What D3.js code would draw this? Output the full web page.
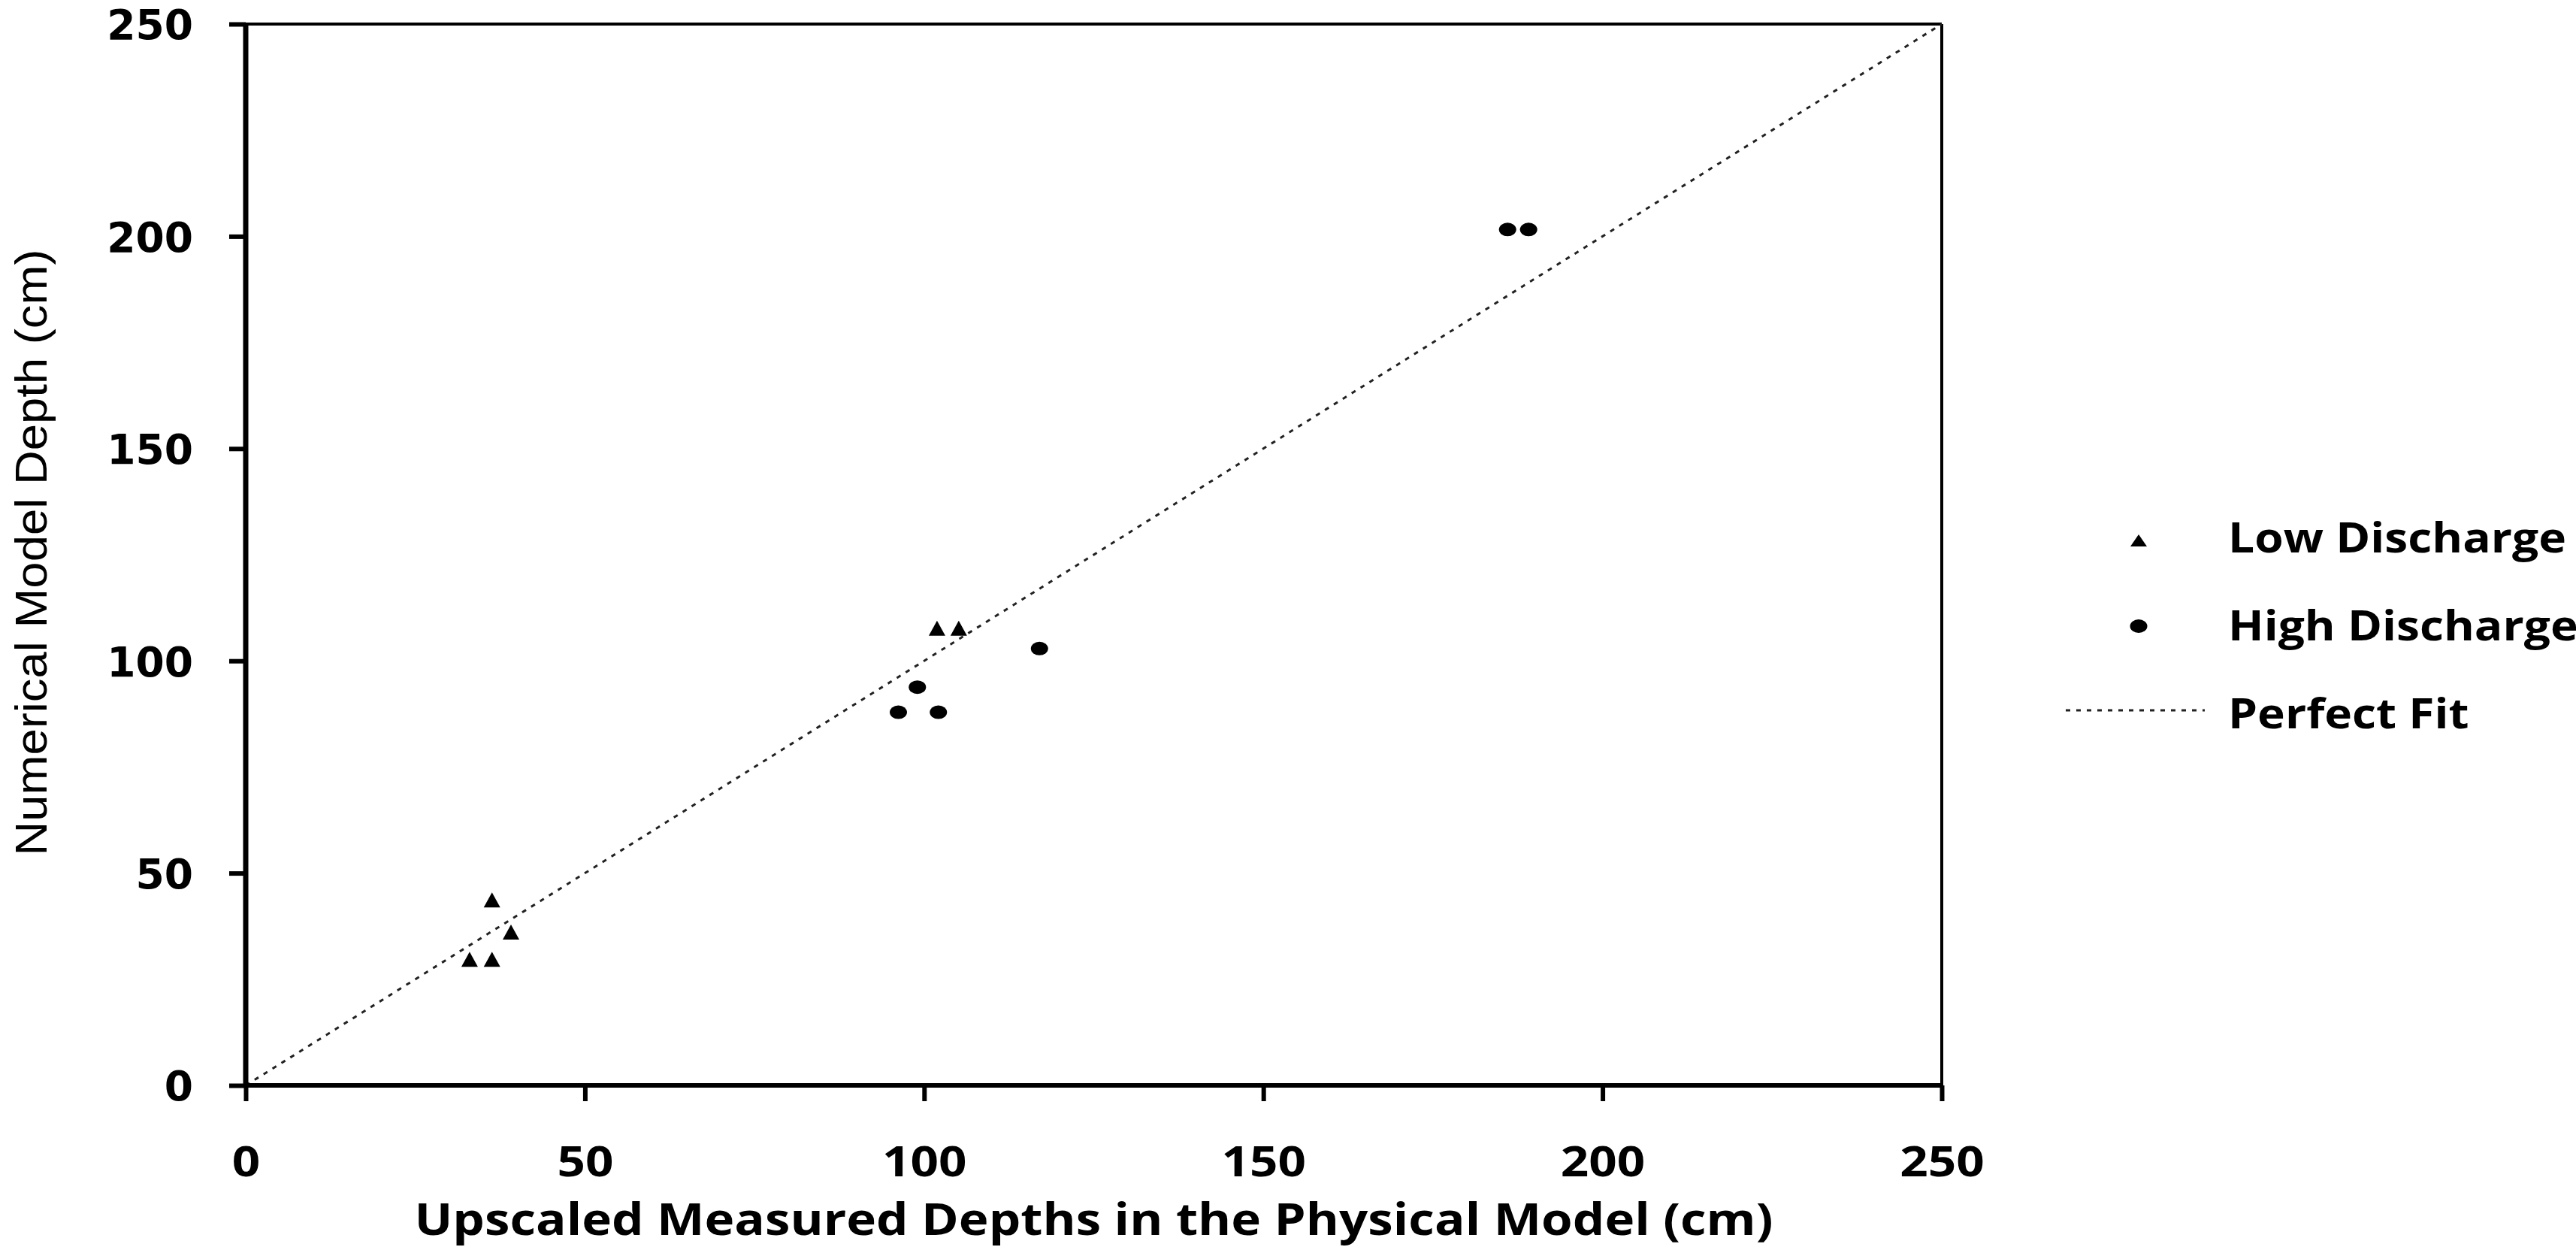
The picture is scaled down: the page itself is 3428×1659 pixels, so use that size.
<!DOCTYPE html>
<html>
<head>
<meta charset="utf-8">
<script src="https://cdn.jsdelivr.net/npm/d3@7"></script>
<style>
html, body { margin: 0; padding: 0; background: #ffffff; }
svg { display: block; }
</style>
</head>
<body>
<script>
// ---- data ----
const lowX  = [36.3, 39.1, 33.0, 36.3, 101.9, 105.1];
const lowY  = [43.7, 36.1, 29.7, 29.7, 107.7, 107.7];
const highX = [96.2, 99.0, 102.1, 117.0, 186.0, 189.1];
const highY = [87.9, 93.8, 87.9, 102.9, 201.6, 201.6];
const fitX  = [0, 250];
const fitY  = [0, 250];
const tickValues = [0, 50, 100, 150, 200, 250];
const seriesNames = ["Low Discharge", "High Discharge", "Perfect Fit"];
const xTitle = "Upscaled Measured Depths in the Physical Model (cm)";
const yTitle = "Numerical Model Depth (cm)";

// ---- layout ----
const W = 3428, H = 1659;
const L = 327, R = 2584, T = 32, B = 1444;

const svg = d3.select("body").append("svg").attr("width", W).attr("height", H);
svg.append("rect").attr("width", W).attr("height", H).attr("fill", "#fff");

const x = d3.scaleLinear().domain([0, 250]).range([L, R]);
const y = d3.scaleLinear().domain([0, 250]).range([B, T]);

// frame (thin top/right)
svg.append("line").attr("x1", L).attr("x2", R).attr("y1", T).attr("y2", T)
  .attr("stroke", "#000").attr("stroke-width", 4);
svg.append("line").attr("x1", R).attr("x2", R).attr("y1", T).attr("y2", B)
  .attr("stroke", "#000").attr("stroke-width", 4);

// perfect fit line
const fitData = fitX.map((v, i) => [v, fitY[i]]);
svg.append("path").datum(fitData)
  .attr("d", d3.line().x(d => x(d[0])).y(d => y(d[1])))
  .attr("fill", "none").attr("stroke", "#222").attr("stroke-width", 3)
  .attr("stroke-dasharray", "6,8");

// y axis
const yAxis = svg.append("g").attr("transform", `translate(${L},0)`)
  .call(d3.axisLeft(y).tickValues(tickValues).tickSize(22).tickPadding(48).tickFormat(d3.format("d")));
yAxis.select(".domain").attr("stroke", "#000").attr("stroke-width", 7);
yAxis.selectAll(".tick line").attr("stroke", "#000").attr("stroke-width", 6);
yAxis.selectAll(".tick text")
  .attr("font-family", "'DejaVu Sans', Verdana, sans-serif")
  .attr("font-weight", "bold").attr("font-size", 55).attr("fill", "#000")
  .attr("dy", "0.36em");

// x axis
const xAxis = svg.append("g").attr("transform", `translate(0,${B})`)
  .call(d3.axisBottom(x).tickValues(tickValues).tickSize(21).tickFormat(d3.format("d")));
xAxis.select(".domain").attr("stroke", "#000").attr("stroke-width", 6);
xAxis.selectAll(".tick line").attr("stroke", "#000").attr("stroke-width", 6);
xAxis.selectAll(".tick text")
  .attr("font-family", "'Open Sans', sans-serif")
  .attr("font-weight", "bold").attr("font-size", 56).attr("fill", "#000")
  .attr("y", 121).attr("dy", 0)
  .attr("textLength", d => String(d).length * 37.5)
  .attr("lengthAdjust", "spacingAndGlyphs");
yAxis.selectAll("path.domain").attr("d", `M0,${B}V${T}`);
xAxis.selectAll("path.domain").attr("d", `M${L},0H${R}`);

// markers
const triPath = (w, h) => `M0,${-h/2}L${w/2},${h/2}L${-w/2},${h/2}Z`;
svg.append("g").selectAll("path").data(lowX.map((v, i) => [v, lowY[i]]))
  .join("path")
  .attr("transform", d => `translate(${x(d[0])},${y(d[1])})`)
  .attr("d", triPath(22, 20)).attr("fill", "#000");
svg.append("g").selectAll("ellipse").data(highX.map((v, i) => [v, highY[i]]))
  .join("ellipse")
  .attr("cx", d => x(d[0])).attr("cy", d => y(d[1]))
  .attr("rx", 11.5).attr("ry", 9).attr("fill", "#000");

// axis titles
svg.append("text").attr("x", (L + R) / 2).attr("y", 1643)
  .attr("text-anchor", "middle")
  .attr("font-family", "'Open Sans', sans-serif").attr("font-weight", "bold")
  .attr("font-size", 59).attr("fill", "#000")
  .attr("textLength", 1808).attr("lengthAdjust", "spacingAndGlyphs")
  .text(xTitle);
svg.append("text").attr("transform", `translate(62,735) rotate(-90)`)
  .attr("text-anchor", "middle")
  .attr("font-family", "'Liberation Sans', Arial, sans-serif")
  .attr("font-size", 60).attr("fill", "#000")
  .attr("textLength", 807).attr("lengthAdjust", "spacingAndGlyphs")
  .text(yTitle);

// legend
const legY = [735, 852, 969];
const leg = svg.append("g");
const legText = leg.selectAll("text").data(seriesNames).join("text")
  .attr("x", 2965).attr("y", (d, i) => legY[i])
  .attr("font-family", "'Open Sans', sans-serif").attr("font-weight", "bold")
  .attr("font-size", 56).attr("fill", "#000")
  .text(d => d);
const natLow = legText.nodes()[0].getComputedTextLength();
const sc = 450 / natLow;
legText.each(function () {
  const n = this.getComputedTextLength();
  d3.select(this).attr("textLength", n * sc).attr("lengthAdjust", "spacingAndGlyphs");
});
leg.append("path").attr("transform", `translate(2846,${legY[0] - 16})`)
  .attr("d", triPath(22, 16)).attr("fill", "#000");
leg.append("ellipse").attr("cx", 2846).attr("cy", legY[1] - 19)
  .attr("rx", 11.5).attr("ry", 9).attr("fill", "#000");
leg.append("line").attr("x1", 2749).attr("x2", 2934)
  .attr("y1", legY[2] - 24).attr("y2", legY[2] - 24)
  .attr("stroke", "#222").attr("stroke-width", 3).attr("stroke-dasharray", "6,8");
</script>
</body>
</html>
